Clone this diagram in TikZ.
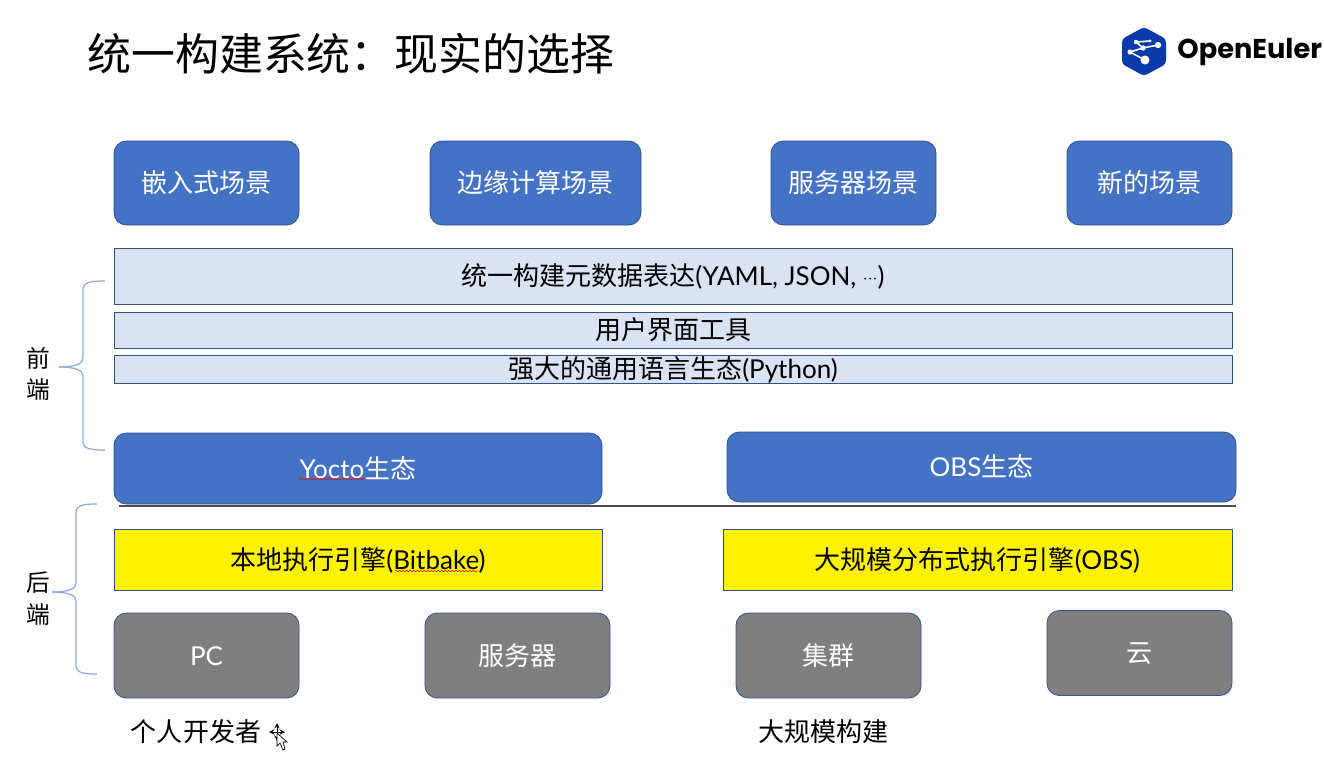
\documentclass[tikz,border=0pt]{standalone}
\usepackage{fontspec}
\setmainfont{Noto Sans CJK SC}
\newfontfamily\logofont{Poppins}
\newfontfamily\latinfont{Lato}
\usetikzlibrary{decorations.pathmorphing}
\definecolor{blueA}{HTML}{4472C4}
\definecolor{blueB}{HTML}{2F528F}
\definecolor{paleA}{HTML}{DAE3F3}
\definecolor{yellowA}{HTML}{FFF200}
\definecolor{greyA}{HTML}{7F7F7F}
\definecolor{logoA}{HTML}{0B3BAA}
\definecolor{braceA}{HTML}{8FAADC}
\newcommand{\lat}[1]{{\latinfont #1}}
\tikzset{
	box/.style={draw=blueB,line width=.45pt,inner sep=0,outer sep=0,text height=12.7pt,text depth=1.4pt,font=\fontsize{14.8pt}{16pt}\selectfont},
	scenebox/.style={box,fill=blueA,text=white,rounded corners=7pt},
	palebox/.style={box,fill=paleA},
	yellowbox/.style={box,fill=yellowA},
	hostbox/.style={box,fill=greyA,text=white,rounded corners=7pt},
	caption/.style={inner sep=0,font=\fontsize{14.8pt}{16pt}\selectfont},
	side/.style={inner sep=0,font=\fontsize{13.5pt}{16pt}\selectfont},
	brace/.style={draw=braceA,line width=.7pt},
	squiggle/.style={draw=red,line width=.3pt,decorate,decoration={snake,amplitude=.4pt,segment length=2pt}}
}
\begin{document}
\begin{tikzpicture}[x=.02cm,y=-.02cm]
	\useasboundingbox[fill=white] (0,0) rectangle (1324,764);
	\node[inner sep=0,anchor=west,font=\fontsize{25pt}{30pt}\selectfont] (title) at (87,54) {统一构建系统：现实的选择};
	\foreach \n/\x/\y/\w/\t in {embed/206.5/183/185/嵌入式场景,edge/535.5/183/211/边缘计算场景,server/853.5/183/165/服务器场景,new/1149.5/183/165/新的场景}
		\node[scenebox,minimum width=\w*.02cm,minimum height=84*.02cm] (\n) at (\x,\y) {\t};
	\foreach \n/\y/\h/\t in {meta/276/56/{统一构建元数据表达\lat{(YAML, JSON, \raisebox{1.2pt}{$\scriptstyle\cdots$})}},ui/330/36/用户界面工具,python/369/28/强大的通用语言生态\lat{(Python)}}
		\node[palebox,minimum width=1118*.02cm,minimum height=\h*.02cm] (\n) at (673,\y) {\t};
	\node[scenebox,minimum width=488*.02cm,minimum height=71*.02cm] (yocto) at (358,468.5) {\lat{Yocto}生态};
	\node[scenebox,minimum width=509*.02cm,minimum height=70*.02cm] (obs) at (981.5,467) {\lat{OBS}生态};
	\path (119,506) coordinate (sepL) (1236,506) coordinate (sepR);
	\draw[line width=.6pt,black!70] (sepL)--(sepR);
	\node[yellowbox,minimum width=488*.02cm,minimum height=61*.02cm] (bitbake) at (358,559.5) {本地执行引擎\lat{(Bitbake)}};
	\node[yellowbox,minimum width=509*.02cm,minimum height=61*.02cm] (dist) at (977.5,559.5) {大规模分布式执行引擎\lat{(OBS)}};
	\foreach \n/\x/\y/\t in {pc/206.5/655.5/\lat{PC},host/517.5/655.5/服务器,cluster/828.5/655.5/集群,cloud/1139.5/653/云}
		\node[hostbox,minimum width=185*.02cm,minimum height=85*.02cm] (\n) at (\x,\y) {\t};
	\node[caption] (dev) at (196,732) {个人开发者};
	\node[caption] (large) at (823,732) {大规模构建};
	\node[side] (frontA) at (38,358) {前};
	\node[side] (frontB) at (38,390) {端};
	\node[side] (backA) at (38,583) {后};
	\node[side] (backB) at (38,615) {端};
	\path
	(105,281) coordinate (fT)
	(59,367) coordinate (fM)
	(105,450) coordinate (fB)
	(97,504) coordinate (bT)
	(52,592) coordinate (bM)
	(97,674) coordinate (bB)
	;
	\draw[brace] (fT) .. controls (90,281) and (83,282) .. (83,290) -- (83,358) .. controls (83,364) and (75,367) .. (fM);
	\draw[brace] (fM) .. controls (75,367) and (83,370) .. (83,376) -- (83,441) .. controls (83,449) and (90,450) .. (fB);
	\draw[brace] (bT) .. controls (83,504) and (76,505) .. (76,513) -- (76,583) .. controls (76,589) and (68,592) .. (bM);
	\draw[brace] (bM) .. controls (68,592) and (76,595) .. (76,601) -- (76,665) .. controls (76,673) and (83,674) .. (bB);
	\path (299,479) coordinate (sqA) (366,479) coordinate (sqB) (395,571) coordinate (sqC) (478,571) coordinate (sqD);
	\draw[squiggle] (sqA)--(sqB);
	\draw[squiggle] (sqC)--(sqD);
	\fill[logoA,rounded corners=2pt] (1144,27)--(1166,39)--(1166,64)--(1144,76)--(1122,64)--(1122,39)--cycle;
	\draw[white,line width=.9pt] (1130,52)--(1143,48)--(1158,45) (1130,52)--(1145,60) (1136,42)--(1143,48) (1136,42)--(1150,41);
	\foreach \x/\y/\r in {1145/60/4.5,1158/45/3.2,1130/52/2.6,1143/48/2.6,1136/42/2.2,1150/41/1.6}
		\fill[white] (\x,\y) circle (\r*.02cm);
	\node[inner sep=0,anchor=west,font=\logofont\bfseries\fontsize{15.5pt}{18pt}\selectfont] (logo) at (1177,52) {OpenEuler};
	\path (277,723) coordinate (mvT) (277,741) coordinate (mvB) (269,732) coordinate (mvL) (285,732) coordinate (mvR);
	\draw[<->,>=stealth,line width=.4pt] (mvT)--(mvB);
	\draw[<->,>=stealth,line width=.4pt] (mvL)--(mvR);
	\draw[fill=white,line width=.4pt] (277,733)--(277,746)--(280,743)--(283,750)--(285,749)--(283,742)--(287,742)--cycle;
\end{tikzpicture}
\end{document}
